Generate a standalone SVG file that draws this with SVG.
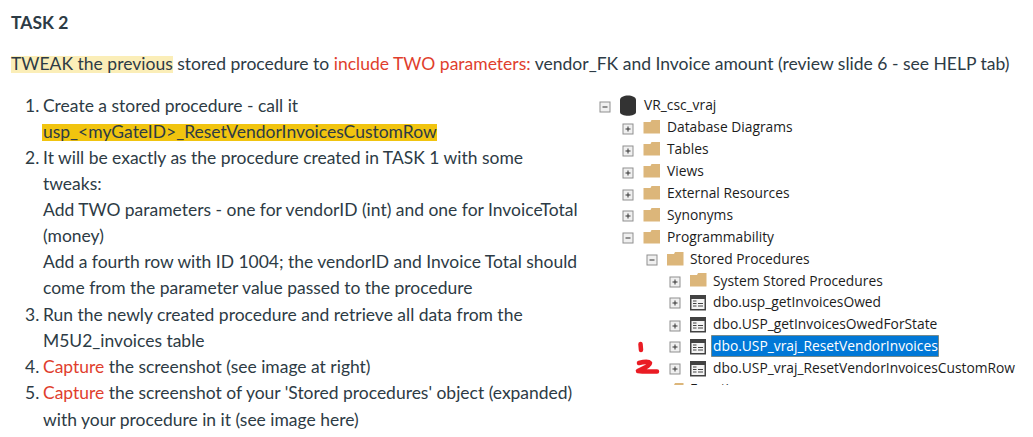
<svg xmlns="http://www.w3.org/2000/svg" width="1033" height="437" viewBox="0 0 1033 437">
<style>
.t{font-family:"Lato","Liberation Sans",sans-serif;font-size:17.48px;fill:#2d3b45}
.r{fill:#e03e2d}
.b{font-weight:700}
.n{font-family:"Open Sans","Noto Sans",sans-serif;font-size:13.8px;fill:#1c1c1c}
.f{fill:#dcb67a}
.x{fill:#f0f0f0;stroke:#8f8f8f;stroke-width:1}
.s{stroke:#333;stroke-width:1;fill:none}
.p{fill:#424242}
.h{fill:none;stroke:#ea1c24;stroke-width:4.5;stroke-linecap:round;stroke-linejoin:round}
</style>
<defs>
<clipPath id="c"><rect x="590" y="85" width="440" height="300"/></clipPath>
<g id="fo"><path class="f" d="M0 2h7l1 -2h8.500v13.500h-16.500z"/></g>
<g id="plus"><rect class="x" x="-5" y="-5" width="10" height="10"/><path class="s" d="M-2.500 0h5M0 -2.500v5"/></g>
<g id="minus"><rect class="x" x="-5" y="-5" width="10" height="10"/><path class="s" d="M-2.500 0h5"/></g>
<g id="sp"><rect class="p" x="0" y="0" width="16" height="15.500"/><rect x="1.500" y="4" width="13" height="10" fill="#f4f4f4"/><path d="M3 6h3.500M3 8.500h3.500M3 11h3.500M8 8.500h5M8 11h5" stroke="#444" stroke-width="1"/></g>
</defs>
<rect width="1033" height="437" fill="#fff"/>
<g id="task-text">
<text class="t b" x="11" y="29">TASK 2</text>
<rect x="11" y="56" width="162" height="17" fill="#fbeeb8"/>
<text class="t" x="11" y="70" style="font-size:17.52px">TWEAK the previous<tspan> stored procedure to </tspan><tspan class="r">include TWO parameters:</tspan><tspan> vendor_FK and Invoice amount (review slide 6 - see HELP tab)</tspan></text>
<rect x="42" y="124" width="395" height="17" fill="#f1c40f"/>
<text class="t" x="25" y="112">1.</text><text class="t" x="43" y="112">Create a stored procedure - call it</text>
<text class="t" x="43" y="138">usp_&lt;myGateID&gt;_ResetVendorInvoicesCustomRow</text>
<text class="t" x="25" y="164">2.</text><text class="t" x="43" y="164">It will be exactly as the procedure created in TASK 1 with some</text>
<text class="t" x="43" y="190">tweaks:</text>
<text class="t" x="43" y="216">Add TWO parameters - one for vendorID (int) and one for InvoiceTotal</text>
<text class="t" x="43" y="242">(money)</text>
<text class="t" x="43" y="268">Add a fourth row with ID 1004; the vendorID and Invoice Total should</text>
<text class="t" x="43" y="294">come from the parameter value passed to the procedure</text>
<text class="t" x="25" y="321">3.</text><text class="t" x="43" y="321">Run the newly created procedure and retrieve all data from the</text>
<text class="t" x="43" y="347">M5U2_invoices table</text>
<text class="t" x="25" y="373">4.</text><text class="t" x="43" y="373"><tspan class="r">Capture</tspan> the screenshot (see image at right)</text>
<text class="t" x="25" y="399">5.</text><text class="t" x="43" y="399"><tspan class="r">Capture</tspan> the screenshot of your 'Stored procedures' object (expanded)</text>
<text class="t" x="43" y="426">with your procedure in it (see image here)</text>
</g>
<g id="tree" clip-path="url(#c)">
<g id="db"><use href="#minus" x="605" y="107"/><path d="M620 100c0-6 16-6 16 0v12c0 5-16 5-16 0z" fill="#333"/><text class="n" x="644" y="110">VR_csc_vraj</text></g>
<g id="n1"><use href="#plus" x="628" y="129"/><use href="#fo" x="643.500" y="120"/><text class="n" x="667" y="132">Database Diagrams</text></g>
<g id="n2"><use href="#plus" x="628" y="151"/><use href="#fo" x="643.500" y="142"/><text class="n" x="667" y="154">Tables</text></g>
<g id="n3"><use href="#plus" x="628" y="173"/><use href="#fo" x="643.500" y="164"/><text class="n" x="667" y="176">Views</text></g>
<g id="n4"><use href="#plus" x="628" y="195"/><use href="#fo" x="643.500" y="186"/><text class="n" x="667" y="198">External Resources</text></g>
<g id="n5"><use href="#plus" x="628" y="216"/><use href="#fo" x="643.500" y="208"/><text class="n" x="667" y="220">Synonyms</text></g>
<g id="n6"><use href="#minus" x="628" y="238"/><use href="#fo" x="643.500" y="230"/><text class="n" x="667" y="242">Programmability</text></g>
<g id="n7"><use href="#minus" x="652" y="260"/><use href="#fo" x="667" y="252"/><text class="n" x="690" y="264">Stored Procedures</text></g>
<g id="n8"><use href="#plus" x="675" y="282"/><use href="#fo" x="690" y="273"/><text class="n" x="713" y="286">System Stored Procedures</text></g>
<g id="n9"><use href="#plus" x="675" y="303"/><use href="#sp" x="690" y="295"/><text class="n" x="713" y="307">dbo.usp_getInvoicesOwed</text></g>
<g id="n10"><use href="#plus" x="675" y="326"/><use href="#sp" x="690" y="317"/><text class="n" x="713" y="329">dbo.USP_getInvoicesOwedForState</text></g>
<g id="n11"><use href="#plus" x="675" y="347"/><use href="#sp" x="690" y="339"/><rect x="711.500" y="335.500" width="227" height="21" fill="#0078d7" stroke="#6b5a30" stroke-dasharray="1 1"/><text class="n" x="713" y="351" style="fill:#fff">dbo.USP_vraj_ResetVendorInvoices</text></g>
<g id="n12"><use href="#plus" x="675" y="369"/><use href="#sp" x="690" y="361"/><text class="n" x="713" y="373">dbo.USP_vraj_ResetVendorInvoicesCustomRow</text></g>
<g id="n13"><use href="#fo" x="667" y="383"/><text class="n" x="690" y="394">Functions</text></g>
</g>
<g id="annotations">
<path class="h" d="M640.500 344l0.500 6"/>
<path class="h" d="M639 363c5-1.500 10-1.500 11 0c0 3-7 5-12 8c6 1 12 0.500 19 0.500"/>
</g>
</svg>
